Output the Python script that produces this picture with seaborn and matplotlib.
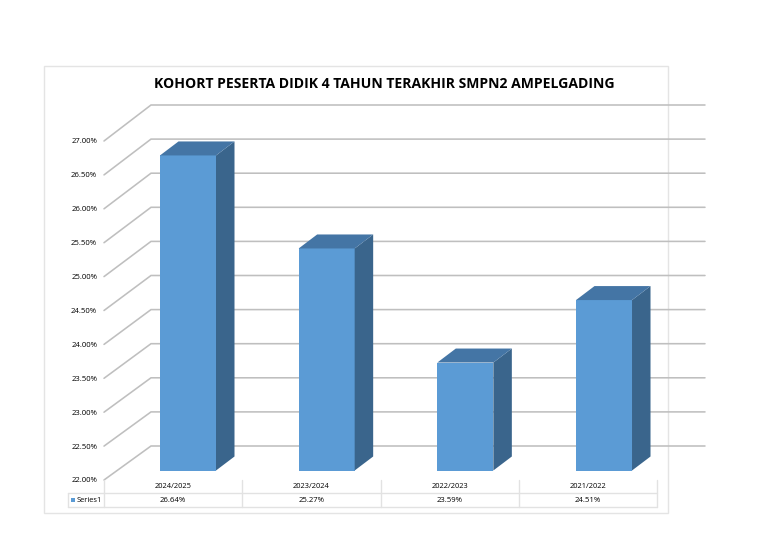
import pandas as pd
import matplotlib.pyplot as plt
import seaborn as sns
from matplotlib.patches import Polygon, Rectangle
from matplotlib.transforms import ScaledTranslation

# Data
years = ['2024/2025', '2023/2024', '2022/2023', '2021/2022']
values = [26.64, 25.27, 23.59, 24.51]
grid_levels = [22.0, 22.5, 23.0, 23.5, 24.0, 24.5, 25.0, 25.5, 26.0, 26.5, 27.0]
series_name = 'Series1'
title = 'KOHORT PESERTA DIDIK 4 TAHUN TERAKHIR SMPN2 AMPELGADING'

FRONT = '#5B9BD5'
SIDE = '#3A658C'
TOP = '#4475A5'
GRID = '#BFBFBF'
TABLE = '#E2E2E2'
W, H = 768, 543

sns.set_style('white')
plt.rcParams['font.family'] = ['Open Sans', 'DejaVu Sans']

fig = plt.figure(figsize=(W / 100, H / 100), dpi=100)
fig.patch.set_facecolor('white')

# axes placed so that the bars land on the reference pixels
px_x = 138.67
px_y = 67.9
left = 188 - 0.5 * px_x
bottom = 470.5
ax = fig.add_axes([left / W, (H - bottom) / H, 4 * px_x / W, 5.5 * px_y / H])
ax.patch.set_alpha(0)

fig.add_artist(Rectangle((44 / W, 1 - 513 / H), 624 / W, 447 / H, transform=fig.transFigure,
                         fc='white', ec='#E4E4E4', lw=1, zorder=-5))


def off_x(px):
    return px / px_x


def off_y(px):
    return px / px_y


df = pd.DataFrame({'year': years, 'value': values})
sns.barplot(data=df, x='year', y='value', color=FRONT, saturation=1, width=56 / px_x, ax=ax,
            zorder=3, linewidth=0, edgecolor='none')
ax.set_ylim(22, 27.5)
ax.set_xlim(-0.5, 3.5)
ax.set_xlabel('')
ax.set_ylabel('')
sns.despine(ax=ax, left=True, bottom=True, right=True, top=True)

# 3D faces of each bar
for bar, v in zip(ax.patches, values):
    x0 = bar.get_x()
    x1 = x0 + bar.get_width()
    dx, dy = off_x(18.5), off_y(14)
    ax.add_patch(Polygon([(x1, 22), (x1 + dx, 22 + dy), (x1 + dx, v + dy), (x1, v)],
                         fc=SIDE, ec='none', zorder=3, clip_on=False))
    ax.add_patch(Polygon([(x0, v), (x0 + dx, v + dy), (x1 + dx, v + dy), (x1, v)],
                         fc=TOP, ec='none', zorder=3, clip_on=False))

# walls: back gridlines and the diagonals to the front plane
back_x0 = off_x(151 - 188)
back_x1 = off_x(705 - 188)
front_x = off_x(104 - 188)
for lv in grid_levels:
    back_y = 22 + (470.5 - (446 - (lv - 22) * 68.2)) / px_y
    front_y = 22 + (470.5 - (480 - (lv - 22) * 67.8)) / px_y
    ax.plot([front_x, back_x0, back_x1], [front_y, back_y, back_y], color=GRID, lw=1.15,
            zorder=1, clip_on=False, solid_joinstyle='miter')

# y tick labels follow the front plane, a bit below the bar plane
ax.set_yticks(grid_levels)
ax.set_yticklabels([f'{lv:.2f}%' for lv in grid_levels], fontsize=5.6, color='#000000')
ax.tick_params(axis='y', length=0, pad=15.5)
for lab in ax.get_yticklabels():
    lab.set_transform(lab.get_transform() + ScaledTranslation(0, -9.5 / 100, fig.dpi_scale_trans))
ax.set_xticks([])

# data table under the plot
col_w = 138.25
for i in range(5):
    xp = 104 + i * col_w
    fig.add_artist(plt.Line2D([xp / W, xp / W], [1 - 480 / H, 1 - 507 / H], color=TABLE, lw=1))
for yp in (493, 507):
    fig.add_artist(plt.Line2D([68 / W, 657 / W], [1 - yp / H, 1 - yp / H], color=TABLE, lw=1))
fig.add_artist(plt.Line2D([68 / W, 68 / W], [1 - 493 / H, 1 - 507 / H], color=TABLE, lw=1))
fig.add_artist(Rectangle((71 / W, 1 - 502 / H), 4 / W, 4 / H, transform=fig.transFigure, fc=FRONT, ec='none'))
fig.text(77 / W, 1 - 500 / H, series_name, fontsize=5.4, va='center', ha='left', color='#000000')
for i, (yr, v) in enumerate(zip(years, values)):
    xc = (104 + (i + 0.5) * col_w) / W
    fig.text(xc, 1 - 487 / H, yr, fontsize=5.4, va='center', ha='center', color='#000000')
    fig.text(xc, 1 - 500.5 / H, f'{v:.2f}%', fontsize=5.6, va='center', ha='center', color='#000000')

fig.text(384 / W, 1 - 84 / H, title, fontsize=10.05, fontweight='bold', va='center', ha='center', color='#000000')

fig.savefig('out.png', dpi=100)
